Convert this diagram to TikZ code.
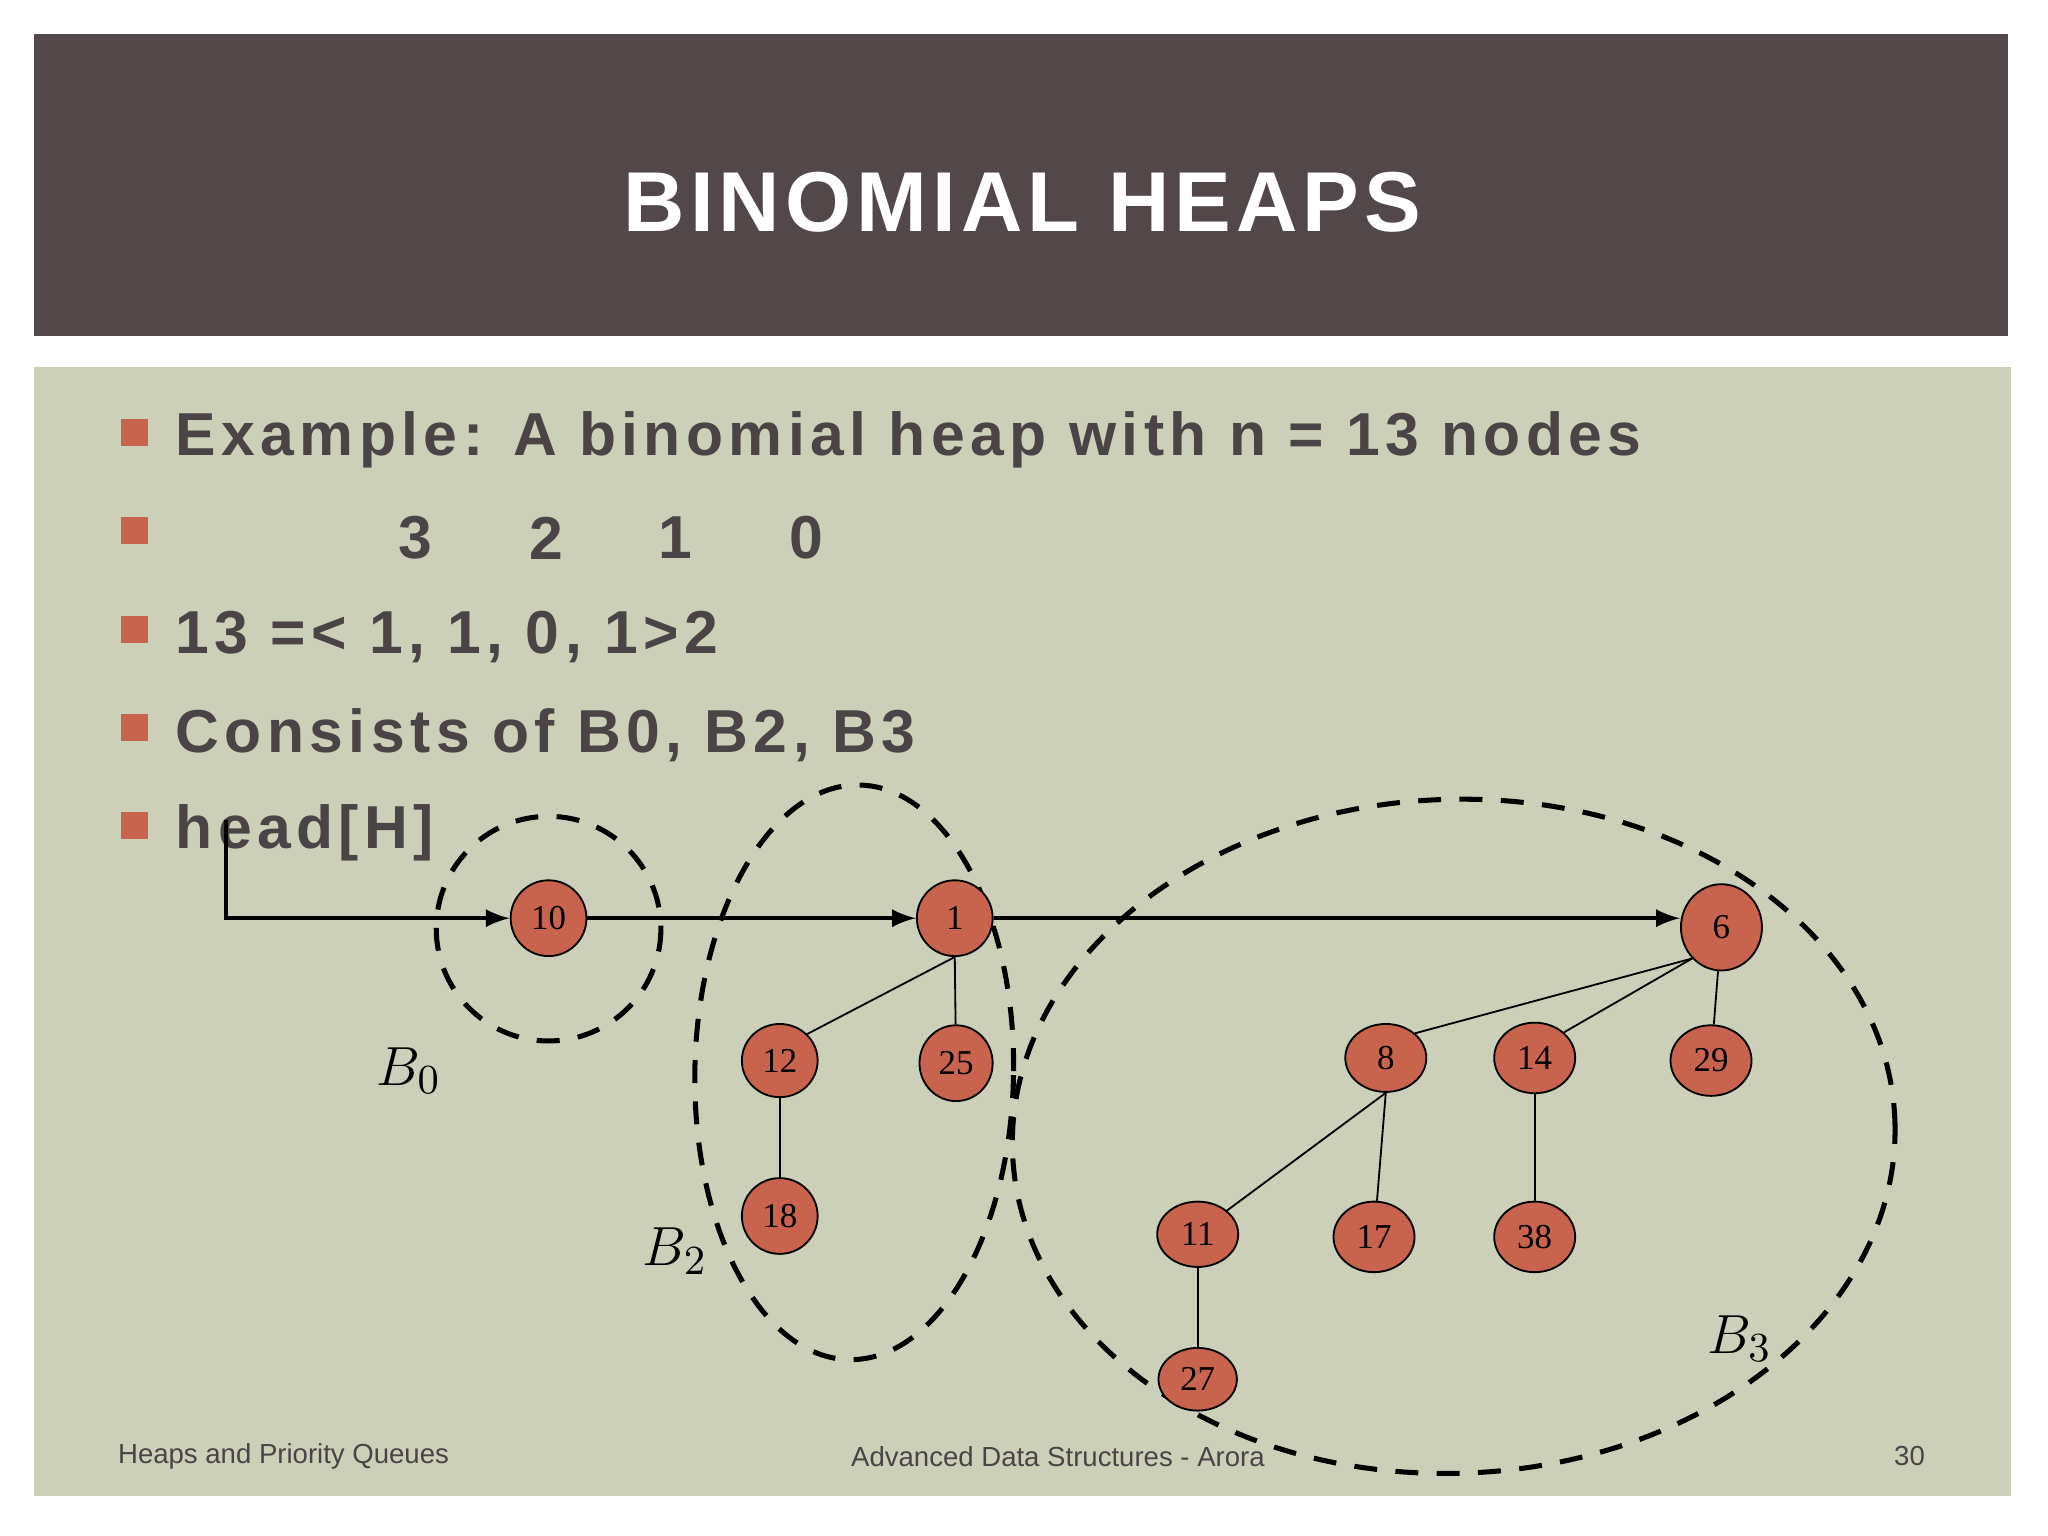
\documentclass[tikz,border=0pt]{standalone}
\usepackage{fontspec}
\setmainfont{Liberation Serif}
\newfontfamily\bodyf[LetterSpace=9]{Liberation Sans}
\newfontfamily\titlef[LetterSpace=6]{Liberation Sans}
\newfontfamily\footf{Liberation Sans}
\definecolor{band}{HTML}{524749}
\definecolor{panel}{HTML}{CDD0B8}
\definecolor{nodec}{HTML}{C8644E}
\definecolor{txt}{HTML}{4A4446}
\usetikzlibrary{shapes.geometric}
\begin{document}
\begin{tikzpicture}[x=0.01cm,y=-0.01cm,
  hn/.style={ellipse,draw,fill=nodec,minimum width=0.58cm,minimum height=0.58cm,inner sep=0pt,font=\fontsize{7.6}{8}\selectfont},
  bul/.style={fill=nodec,minimum size=6pt,inner sep=0pt},
  btxt/.style={anchor=west,text=txt,font=\bodyf\bfseries\fontsize{13.2}{15}\selectfont},
  blab/.style={font=\fontsize{13}{14}\selectfont},
  ring/.style={line width=1.1pt,dash pattern=on 5pt off 4pt},
  arr/.style={-latex,line width=0.8pt},
  foot/.style={text=txt,font=\footf\fontsize{6}{7}\selectfont}]
\useasboundingbox (0,0) rectangle (1568,1176);
\fill[white] (0,0) rectangle (1568,1176);
\fill[band] (26,26) rectangle (1537,257);
\fill[panel] (26,281) rectangle (1540,1145);
\node[text=white,font=\titlef\bfseries\fontsize{18.5}{22}\selectfont] (title) at (783,155) {BINOMIAL HEAPS};
\foreach \yy/\nm in {337/a,412/b,488/c,563/d,638/e}{\node[bul] (s\nm) at (103,\yy-6) {};}
\node[btxt] (t1) at (122,337) {Example: A binomial heap with n = 13 nodes};
\foreach \xx/\d in {318/3,418/2,517/1,617/0}{\node[text=txt,font=\bodyf\bfseries\fontsize{13.2}{15}\selectfont] (d\d) at (\xx,412) {\d};}
\node[btxt] (t3) at (122,488) {13 =< 1, 1, 0, 1>2};
\node[btxt] (t4) at (122,563) {Consists of B0, B2, B3};
\node[btxt] (t5) at (122,638) {head[H]};
% rings
\draw[ring] (420,711) circle [radius=86];
\draw[ring,rotate around={-1:(654,821)}] (654,821) ellipse [x radius=122,y radius=220];
\draw[ring,rotate around={2:(1113,870)}] (1113,870) ellipse [x radius=338,y radius=258];
% nodes
\node[hn] (n10) at (420,703) {10};
\node[hn] (n1) at (731,703) {1};
\node[hn,minimum width=0.62cm,minimum height=0.66cm] (n6) at (1318,710) {6};
\node[hn,minimum height=0.56cm] (n12) at (597,812) {12};
\node[hn,minimum width=0.56cm] (n25) at (732,814) {25};
\node[hn] (n18) at (597,931) {18};
\node[hn,minimum width=0.62cm,minimum height=0.52cm] (n8) at (1061,810) {8};
\node[hn,minimum width=0.62cm,minimum height=0.54cm] (n14) at (1175,810) {14};
\node[hn,minimum width=0.62cm,minimum height=0.54cm] (n29) at (1310,812) {29};
\node[hn,minimum width=0.62cm,minimum height=0.50cm] (n11) at (917,945) {11};
\node[hn,minimum width=0.62cm,minimum height=0.54cm] (n17) at (1052,947) {17};
\node[hn,minimum width=0.62cm,minimum height=0.54cm] (n38) at (1175,947) {38};
\node[hn,minimum width=0.60cm,minimum height=0.48cm] (n27) at (917,1056) {27};
\coordinate (h0) at (173,628);
\coordinate (h1) at (173,703);
\draw[arr] (h0) -- (h1) -- (n10);
\draw[arr] (n10) -- (n1);
\draw[arr] (n1.east) -- (n6.west|-n1.east);
\draw (n1.south) -- (n12.north east);
\draw (n1.south) -- (n25);
\draw (n12) -- (n18);
\draw (n6.south west) -- (n8.north east);
\draw (n6.south west) -- (n14.north east);
\draw (n6) -- (n29);
\draw (n8.south) -- (n11.north east);
\draw (n8.south) -- (n17);
\draw (n14) -- (n38);
\draw (n11) -- (n27);
\node[blab] (b0) at (313,820) {$B_0$};
\node[blab] (b2) at (517,958) {$B_2$};
\node[blab] (b3) at (1332,1025) {$B_3$};
\node[foot,anchor=west] (f1) at (78,1115) {Heaps and Priority Queues};
\node[foot] (f2) at (810,1115) {Advanced Data Structures - Arora};
\node[foot] (f3) at (1462,1115) {30};
\end{tikzpicture}
\end{document}
